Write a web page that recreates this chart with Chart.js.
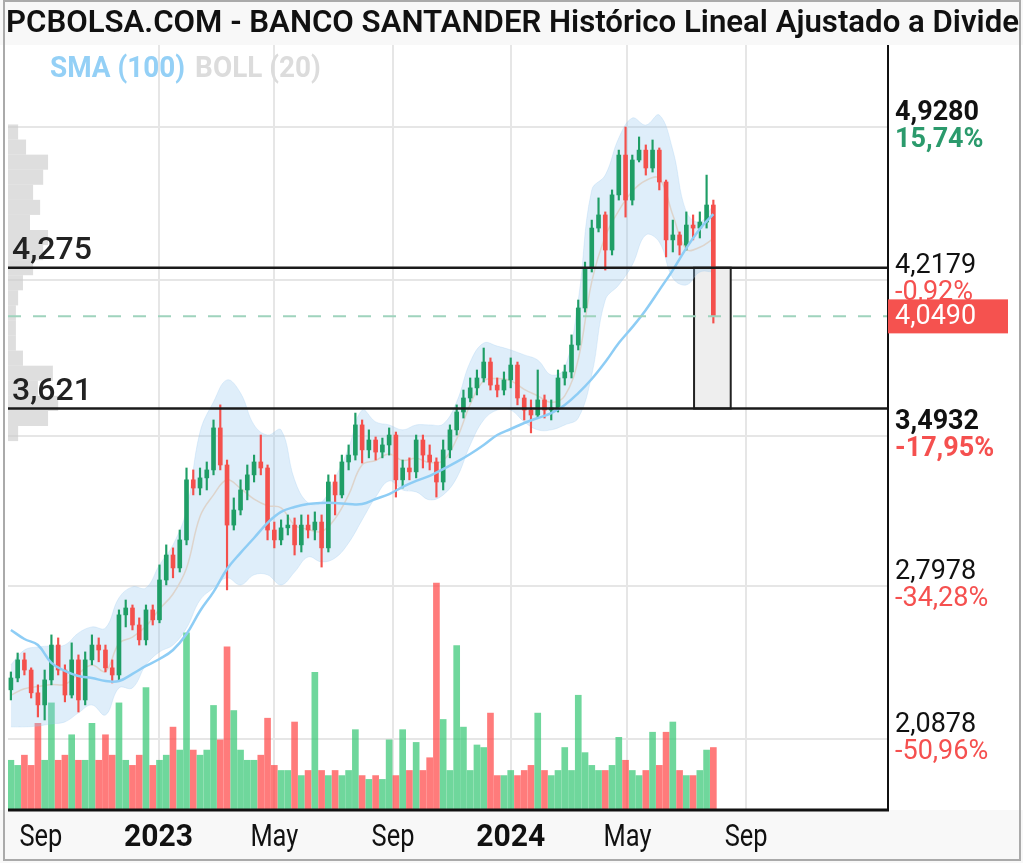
<!DOCTYPE html>
<html><head><meta charset="utf-8">
<script src="https://cdn.jsdelivr.net/npm/chart.js@4.4.1/dist/chart.umd.min.js"></script>
<style>html,body{margin:0;padding:0;background:#fff;}canvas{display:block;}</style>
</head><body>
<canvas id="c" width="1023" height="863"></canvas>
<script>
// ---------- DATA ----------
const titleText = 'PCBOLSA.COM - BANCO SANTANDER Histórico Lineal Ajustado a Dividendos';
const firstWeek = '2022-08-01';   // weekly candles, one per week
const open = [
 2.315,2.370,2.454,2.407,2.301,2.245,2.361,2.523,2.407,2.291,
 2.454,2.268,2.454,2.523,2.500,2.417,2.384,2.663,2.695,2.616,
 2.547,2.686,2.640,2.825,2.941,2.881,3.011,3.290,3.252,3.299,
 3.336,3.531,3.359,3.080,3.150,3.243,3.313,3.373,3.345,3.057,
 3.011,3.067,3.080,2.988,3.080,3.057,3.094,2.974,3.280,3.220,
 3.373,3.405,3.545,3.429,3.475,3.419,3.452,3.498,3.290,3.345,
 3.327,3.475,3.405,3.373,3.280,3.429,3.522,3.605,3.670,3.717,
 3.763,3.837,3.730,3.707,3.754,3.823,3.670,3.614,3.591,3.661,
 3.614,3.624,3.763,3.791,3.916,4.088,4.274,4.459,4.520,4.357,
 4.613,4.798,4.589,4.775,4.821,4.738,4.821,4.673,4.404,4.427,
 4.380,4.473,4.459,4.487,4.566];
const close = [
 2.370,2.454,2.407,2.301,2.245,2.361,2.523,2.407,2.291,2.454,
 2.268,2.454,2.523,2.500,2.417,2.384,2.663,2.695,2.616,2.547,
 2.686,2.640,2.825,2.941,2.881,3.011,3.290,3.252,3.299,3.336,
 3.531,3.359,3.080,3.150,3.243,3.313,3.373,3.345,3.057,3.011,
 3.067,3.080,2.988,3.080,3.057,3.094,2.974,3.280,3.220,3.373,
 3.405,3.545,3.429,3.475,3.419,3.452,3.498,3.290,3.345,3.327,
 3.475,3.405,3.373,3.280,3.429,3.522,3.605,3.670,3.717,3.763,
 3.837,3.730,3.707,3.754,3.823,3.670,3.614,3.591,3.661,3.614,
 3.624,3.763,3.791,3.916,4.088,4.274,4.459,4.520,4.357,4.613,
 4.798,4.589,4.775,4.821,4.738,4.821,4.673,4.404,4.427,4.380,
 4.473,4.459,4.487,4.566,4.049];
const high = [
 2.398,2.486,2.486,2.417,2.338,2.407,2.570,2.556,2.431,2.533,
 2.477,2.491,2.570,2.556,2.523,2.454,2.686,2.732,2.709,2.649,
 2.709,2.709,2.895,2.988,2.974,3.057,3.345,3.336,3.345,3.373,
 3.568,3.638,3.382,3.206,3.290,3.359,3.405,3.498,3.359,3.094,
 3.104,3.127,3.113,3.127,3.127,3.141,3.127,3.313,3.313,3.405,
 3.452,3.600,3.568,3.522,3.489,3.484,3.531,3.512,3.382,3.392,
 3.498,3.498,3.452,3.392,3.475,3.545,3.638,3.707,3.763,3.800,
 3.902,3.856,3.763,3.791,3.856,3.837,3.684,3.661,3.800,3.684,
 3.661,3.800,3.823,3.963,4.125,4.301,4.496,4.599,4.534,4.636,
 4.821,4.928,4.798,4.882,4.845,4.868,4.831,4.682,4.496,4.441,
 4.534,4.520,4.534,4.705,4.589];
const low = [
 2.268,2.352,2.384,2.277,2.189,2.175,2.338,2.384,2.259,2.277,
 2.212,2.245,2.431,2.445,2.398,2.347,2.361,2.607,2.593,2.523,
 2.523,2.616,2.626,2.802,2.835,2.862,2.988,3.220,3.220,3.243,
 3.313,3.336,2.779,3.057,3.127,3.197,3.280,3.313,3.011,2.974,
 2.988,3.034,2.941,2.955,3.020,3.011,2.885,2.955,3.127,3.206,
 3.336,3.382,3.368,3.392,3.382,3.392,3.405,3.210,3.252,3.290,
 3.299,3.345,3.336,3.210,3.243,3.392,3.498,3.577,3.652,3.684,
 3.744,3.707,3.675,3.684,3.717,3.638,3.568,3.508,3.577,3.577,
 3.568,3.605,3.730,3.763,3.893,4.069,4.255,4.441,4.264,4.334,
 4.589,4.510,4.566,4.766,4.705,4.719,4.636,4.325,4.348,4.334,
 4.357,4.404,4.413,4.459,4.018];
const volume = [   // millions of shares
 39,35,43,35,68,39,84,39,43,59,
 39,39,68,39,59,43,84,39,35,43,
 96,35,39,43,65,47,139,47,43,47,
 82,55,128,78,47,39,39,43,72,35,
 31,31,69,27,31,108,31,27,31,27,
 31,63,27,24,27,24,55,27,63,31,
 53,31,41,178,71,31,129,65,31,51,
 49,76,27,27,31,27,31,35,76,31,
 27,31,49,31,90,45,35,31,31,35,
 57,39,31,27,31,61,35,61,69,31,
 27,27,31,47,49];
// indicators, sampled every second week
const sma100 = [
 2.593,2.551,2.523,2.440,2.403,2.379,2.370,2.356,2.356,2.389,
 2.426,2.458,2.500,2.574,2.681,2.770,2.876,2.951,3.020,3.090,
 3.141,3.164,3.178,3.183,3.183,3.178,3.178,3.201,3.224,3.257,
 3.285,3.308,3.340,3.373,3.410,3.452,3.498,3.526,3.554,3.577,
 3.600,3.638,3.693,3.758,3.837,3.925,3.999,4.079,4.171,4.264,
 4.366,4.455,4.524];
const bollUpper = [
 2.431,2.500,2.514,2.519,2.523,2.579,2.607,2.602,2.742,2.793,
 2.788,2.895,2.988,3.150,3.512,3.652,3.754,3.693,3.545,3.498,
 3.522,3.290,3.183,3.187,3.299,3.438,3.614,3.559,3.545,3.522,
 3.545,3.545,3.549,3.652,3.837,3.925,3.911,3.893,3.870,3.846,
 3.777,3.809,4.125,4.636,4.705,4.877,4.970,4.937,4.984,4.821,
 4.534,4.487,4.566];
const bollLower = [
 2.143,2.143,2.147,2.157,2.166,2.208,2.245,2.198,2.324,2.324,
 2.431,2.491,2.523,2.602,2.732,2.788,2.835,2.802,2.849,2.849,
 2.802,2.862,2.932,2.909,2.927,2.997,3.104,3.210,3.285,3.243,
 3.234,3.197,3.220,3.299,3.452,3.568,3.614,3.614,3.559,3.522,
 3.522,3.545,3.577,3.777,4.125,4.195,4.288,4.427,4.394,4.227,
 4.195,4.255,4.255];
const bollMid = [
 2.29,2.32,2.33,2.34,2.34,2.39,2.43,2.40,2.53,2.56,
 2.61,2.69,2.76,2.88,3.12,3.22,3.29,3.25,3.20,3.17,
 3.16,3.08,3.06,3.05,3.11,3.22,3.36,3.38,3.41,3.38,
 3.39,3.37,3.38,3.48,3.64,3.75,3.76,3.75,3.71,3.68,
 3.65,3.68,3.85,4.21,4.42,4.54,4.63,4.68,4.69,4.52,
 4.36,4.37,4.41];
// volume profile (price bin centres, volume per bin, millions)
const profilePrice = [3.505,3.575,3.645,3.715,3.785,3.855,3.925,3.995,4.065,4.135,4.205,4.275,4.345,4.415,4.485,4.555,4.625,4.695,4.765,4.835,4.905];
const profileVol   = [23,91,114,68,102,34,18,18,18,23,34,57,80,91,50,73,57,80,91,41,23];
// x axis ticks
const tickDates  = ['2022-09-01','2023-01-01','2023-05-01','2023-09-01','2024-01-01','2024-05-01','2024-09-01'];
const tickLabels = ['Sep','2023','May','Sep','2024','May','Sep'];
// right axis levels
const axisLevels = [4.928, 4.2179, 3.4932, 2.7978, 2.0878];
const axisValueLabels = ['4,9280','4,2179','3,4932','2,7978','2,0878'];
const axisPctLabels = ['15,74%','-0,92%','-17,95%','-34,28%','-50,96%'];
const axisBold = [true,false,true,false,false];
// support / resistance and projection box
const levelValues = [4.275, 3.621];
const levelLabels = ['4,275', '3,621'];
const boxStart = '2024-07-09', boxEnd = '2024-08-16';
const lastPrice = 4.049, lastPriceLabel = '4,0490';

// ---------- BUILD ----------
const DAY = 86400000, ORIGIN = Date.UTC(2022, 8, 1);
const dayOf = s => (Date.parse(s + 'T00:00:00Z') - ORIGIN) / DAY;
const weekDays = open.map((_, i) => dayOf(firstWeek) + 7 * i);
const indDays = sma100.map((_, k) => weekDays[2 * k]);
const up = close.map((c, i) => c >= open[i]);
const candleColor = up.map(u => u ? '#1f9e66' : '#f4504c');
const volColor = up.map(u => u ? 'rgba(56,200,118,0.72)' : 'rgba(255,72,72,0.72)');
const pts = (xs, ys) => ys.map((v, i) => ({x: xs[i], y: v}));

function drawText(ctx, s, x, y, font, color, sx, align) {
  ctx.save();
  ctx.font = font; ctx.fillStyle = color; ctx.textBaseline = 'middle';
  ctx.textAlign = align || 'left';
  ctx.translate(x, y); ctx.scale(sx || 1, 1);
  ctx.fillText(s, 0, 0);
  ctx.restore();
}

const deco = {
  id: 'deco',
  beforeDraw(chart) {
    const {ctx, width, height, chartArea: a} = chart;
    ctx.save();
    ctx.fillStyle = '#ffffff'; ctx.fillRect(0, 0, width, height);
    ctx.fillStyle = '#f8f8f8';
    ctx.fillRect(0, 0, width, a.top);
    ctx.fillRect(0, a.bottom, width, height - a.bottom);
    ctx.restore();
  },
  beforeDatasetsDraw(chart) {
    const {ctx, chartArea: a, scales} = chart;
    const x = scales.x, y = scales.y, xp = scales.xp;
    ctx.save();
    ctx.beginPath(); ctx.rect(a.left, a.top, a.right - a.left, a.bottom - a.top); ctx.clip();
    // volume profile
    ctx.fillStyle = 'rgba(205,205,205,0.65)';
    const half = 0.035;
    const x0 = xp.getPixelForValue(0);
    profilePrice.forEach((p, i) => {
      const yt = y.getPixelForValue(p + half), yb = y.getPixelForValue(p - half);
      const x1 = xp.getPixelForValue(profileVol[i]);
      ctx.fillRect(x0, yt, x1 - x0, yb - yt);
    });
    // projection box
    const bx0 = x.getPixelForValue(dayOf(boxStart)), bx1 = x.getPixelForValue(dayOf(boxEnd));
    const by0 = y.getPixelForValue(levelValues[0]), by1 = y.getPixelForValue(levelValues[1]);
    ctx.fillStyle = '#eeeeee'; ctx.fillRect(bx0, by0, bx1 - bx0, by1 - by0);
    ctx.strokeStyle = '#222'; ctx.lineWidth = 2; ctx.strokeRect(bx0, by0, bx1 - bx0, by1 - by0);
    ctx.restore();
  },
  afterDatasetsDraw(chart) {
    const {ctx, chartArea: a, scales} = chart;
    const y = scales.y;
    ctx.save();
    ctx.strokeStyle = '#9fd3bd'; ctx.lineWidth = 2; ctx.setLineDash([13, 12]);
    const yl = y.getPixelForValue(lastPrice);
    ctx.beginPath(); ctx.moveTo(a.left, yl); ctx.lineTo(a.right, yl); ctx.stroke();
    ctx.setLineDash([]);
    ctx.strokeStyle = '#1a1a1a'; ctx.lineWidth = 2.5;
    levelValues.forEach(v => {
      const yy = y.getPixelForValue(v);
      ctx.beginPath(); ctx.moveTo(a.left, yy); ctx.lineTo(a.right, yy); ctx.stroke();
    });
    ctx.lineWidth = 3; ctx.strokeStyle = '#111';
    ctx.beginPath(); ctx.moveTo(a.left, a.bottom); ctx.lineTo(a.right + 1, a.bottom); ctx.stroke();
    ctx.lineWidth = 2;
    ctx.beginPath(); ctx.moveTo(a.right, a.top); ctx.lineTo(a.right, a.bottom); ctx.stroke();
    ctx.restore();
  },
  afterDraw(chart) {
    const {ctx, width, height, chartArea: a, scales} = chart;
    const x = scales.x, y = scales.y;
    // title
    ctx.save();
    ctx.beginPath(); ctx.rect(0, 0, width - 4, a.top); ctx.clip();
    const tf = '600 32px Roboto';
    ctx.font = tf;
    const pre = titleText.slice(0, titleText.indexOf('Divide') + 6);
    const sx = 1013 / ctx.measureText(pre).width;
    drawText(ctx, titleText, 6, 24, tf, '#111', sx);
    ctx.restore();
    // legend
    const lg1 = chart.data.datasets[0].label, lg2 = chart.data.datasets[3].label;
    const lf = 'bold 30px Roboto', lsx = 0.93;
    ctx.font = lf;
    const w1 = ctx.measureText(lg1).width * lsx;
    drawText(ctx, lg1, 50, 69, lf, '#94d0f6', lsx);
    drawText(ctx, lg2, 50 + w1 + 10, 69, lf, '#dcdcdc', lsx);
    // left level labels
    levelValues.forEach((v, i) => {
      drawText(ctx, levelLabels[i], 12, y.getPixelForValue(v) - 17, '500 32px Roboto', '#222', 1);
    });
    // right axis labels
    const lx = a.right + 7;
    axisLevels.forEach((v, i) => {
      const yy = y.getPixelForValue(v);
      const b = axisBold[i] ? 'bold ' : '';
      drawText(ctx, axisValueLabels[i], lx, yy - 14, b + '27px Roboto', '#111', 1);
      const pc = axisPctLabels[i].startsWith('-') ? '#f5504f' : '#2b9a6c';
      drawText(ctx, axisPctLabels[i], lx, yy + 13, b + '27px Roboto', pc, 1);
    });
    // last price badge
    const yb = y.getPixelForValue(lastPrice);
    ctx.save(); ctx.fillStyle = '#f5524f'; ctx.fillRect(a.right, yb - 17, 120, 34); ctx.restore();
    drawText(ctx, lastPriceLabel, lx, yb + 1, '27px Roboto', '#ffffff', 1);
    // x labels
    tickDates.forEach((d, i) => {
      const xx = x.getPixelForValue(dayOf(d));
      const isYear = /^\d{4}$/.test(tickLabels[i]);
      drawText(ctx, tickLabels[i], xx, a.bottom + 28, (isYear ? 'bold ' : '') + '31px Roboto', '#111', isYear ? 0.97 : 0.82, 'center');
    });
    // page border
    ctx.save(); ctx.strokeStyle = '#aaaaaa'; ctx.lineWidth = 2;
    ctx.strokeRect(4, 1, width - 7, height - 4); ctx.restore();
  }
};

new Chart(document.getElementById('c'), {
  type: 'bar',
  data: {
    datasets: [
      {type: 'line', label: 'SMA (100)', data: pts(indDays, sma100), borderColor: '#8ecdf5', borderWidth: 2.5,
       pointRadius: 0, tension: 0.4, fill: false, order: 0},
      {type: 'bar', label: 'Velas', data: weekDays.map((d, i) => ({x: d, y: [open[i], close[i]]})),
       backgroundColor: candleColor, barThickness: 4, grouped: false, order: 1},
      {type: 'bar', label: 'Mechas', data: weekDays.map((d, i) => ({x: d, y: [low[i], high[i]]})),
       backgroundColor: candleColor, barThickness: 1.5, grouped: false, order: 2},
      {type: 'line', label: 'BOLL (20)', data: pts(indDays, bollMid), borderColor: '#ddd4cc', borderWidth: 1.5,
       pointRadius: 0, tension: 0.4, fill: false, order: 3},
      {type: 'line', label: 'BOLL sup', data: pts(indDays, bollUpper), borderColor: 'rgba(150,200,240,0.25)', borderWidth: 1,
       backgroundColor: 'rgba(150,200,240,0.3)', fill: '+1', pointRadius: 0, tension: 0.4, order: 4},
      {type: 'line', label: 'BOLL inf', data: pts(indDays, bollLower), borderColor: 'rgba(150,200,240,0.25)', borderWidth: 1,
       fill: false, pointRadius: 0, tension: 0.4, order: 5},
      {type: 'bar', label: 'Volumen', data: weekDays.map((d, i) => ({x: d, y: volume[i]})),
       backgroundColor: volColor, barThickness: 6, grouped: false, yAxisID: 'yv', order: 6}
    ]
  },
  options: {
    responsive: false, animation: false, events: [],
    layout: {padding: {left: 8, top: 45, right: 0, bottom: 0}},
    plugins: {legend: {display: false}, title: {display: false}, tooltip: {enabled: false}},
    scales: {
      x: {type: 'linear', position: 'bottom', min: -34, max: 878, offset: false,
          afterBuildTicks: s => { s.ticks = tickDates.map(d => ({value: dayOf(d)})); },
          afterFit: s => { s.height = 53; },
          ticks: {display: false},
          grid: {color: c => c.index === 0 ? 'rgba(0,0,0,0)' : '#e6e6e6', lineWidth: 2, drawTicks: false, offset: false},
          border: {display: false}},
      xp: {type: 'linear', axis: 'x', position: 'top', display: true, min: 0, max: 2000, offset: false,
           afterFit: s => { s.height = 0; },
           ticks: {display: false}, grid: {display: false}, border: {display: false}},
      y: {type: 'linear', position: 'right', min: 1.757, max: 5.309,
          afterBuildTicks: s => { s.ticks = axisLevels.map(v => ({value: v})); },
          afterFit: s => { s.width = 135; },
          ticks: {display: false},
          grid: {color: '#e6e6e6', lineWidth: 2, drawTicks: false},
          border: {display: false}},
      yv: {type: 'linear', display: false, min: 0, max: 600, position: 'left'}
    }
  },
  plugins: [deco]
});
</script>
</body></html>
